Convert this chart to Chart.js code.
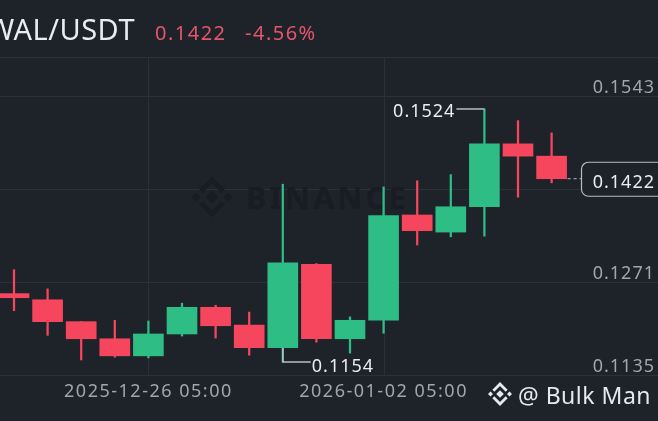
<!DOCTYPE html>
<html>
<head>
<meta charset="utf-8">
<script src="https://cdn.jsdelivr.net/npm/chart.js@4.4.1/dist/chart.umd.min.js"></script>
<style>
html, body { margin: 0; padding: 0; background: #1e2229; }
#wrap { width: 658px; height: 421px; }
</style>
</head>
<body>
<div id="wrap"><canvas id="chart" width="658" height="421"></canvas></div>
<script>
// daily candles, 2025-12-22 .. 2026-01-07
let days   = ['12-22','12-23','12-24','12-25','12-26','12-27','12-28','12-29','12-30','12-31','01-01','01-02','01-03','01-04','01-05','01-06','01-07'];
let opens  = [0.1254, 0.1245, 0.1213, 0.1188, 0.1163, 0.1195, 0.1234, 0.1208, 0.1175, 0.1297, 0.1188, 0.1215, 0.1369, 0.1344, 0.1381, 0.1473, 0.1455];
let highs  = [0.1289, 0.1261, 0.1213, 0.1215, 0.1214, 0.1240, 0.1237, 0.1227, 0.1414, 0.1298, 0.1220, 0.1410, 0.1419, 0.1428, 0.1524, 0.1507, 0.1489];
let lows   = [0.1229, 0.1193, 0.1157, 0.1161, 0.1160, 0.1192, 0.1189, 0.1164, 0.1154, 0.1183, 0.1167, 0.1196, 0.1325, 0.1337, 0.1338, 0.1395, 0.1416];
let closes = [0.1248, 0.1213, 0.1188, 0.1163, 0.1195, 0.1234, 0.1207, 0.1175, 0.1299, 0.1188, 0.1215, 0.1368, 0.1346, 0.1381, 0.1473, 0.1455, 0.1422];

let priceTicks = [0.1135, 0.1271, 0.1407, 0.1543];
let timeTickIdx = [4, 11];
let timeTickText = ['2025-12-26 05:00', '2026-01-02 05:00'];

let pair = 'WAL/USDT';
let lastPrice = '0.1422';
let dayChange = '-4.56%';
let maxLabel = '0.1524';
let minLabel = '0.1154';

let colors = {
    'bg':     '#1e2229',
    'grid':   '#2b3039',
    'up':     '#2ebd85',
    'down':   '#f6465d',
    'axis':   '#a0a6af',
    'text':   '#eaecef',
    'red':    '#e4566c',
    'marker': '#b7bdc6'
};

let font = '"Noto Sans", sans-serif';

let candleColor = opens.map((o, i) => closes[i] >= o ? colors.up : colors.down);

let wickData = days.map((d, i) => ({ x: i, y: [lows[i], highs[i]] }));
let bodyData = days.map((d, i) => ({ x: i, y: [Math.min(opens[i], closes[i]), Math.max(opens[i], closes[i])] }));

function diamond(ctx, cx, cy, r) {
    ctx.beginPath();
    ctx.moveTo(cx, cy - r);
    ctx.lineTo(cx + r, cy);
    ctx.lineTo(cx, cy + r);
    ctx.lineTo(cx - r, cy);
    ctx.closePath();
    ctx.fill();
}

function binanceLogo(ctx, cx, cy, s, color) {
    ctx.save();
    ctx.fillStyle = color;
    ctx.strokeStyle = color;
    ctx.lineWidth = 3 * s;
    diamond(ctx, cx, cy, 4 * s);
    diamond(ctx, cx - 10 * s, cy, 2.6 * s);
    diamond(ctx, cx + 10 * s, cy, 2.6 * s);
    ctx.beginPath();
    ctx.moveTo(cx - 7 * s, cy - 3.5 * s);
    ctx.lineTo(cx, cy - 10.5 * s);
    ctx.lineTo(cx + 7 * s, cy - 3.5 * s);
    ctx.moveTo(cx - 7 * s, cy + 3.5 * s);
    ctx.lineTo(cx, cy + 10.5 * s);
    ctx.lineTo(cx + 7 * s, cy + 3.5 * s);
    ctx.stroke();
    ctx.restore();
}

function roundRect(ctx, x, y, w, h, r) {
    ctx.beginPath();
    ctx.moveTo(x + r, y);
    ctx.lineTo(x + w - r, y);
    ctx.arcTo(x + w, y, x + w, y + r, r);
    ctx.lineTo(x + w, y + h - r);
    ctx.arcTo(x + w, y + h, x + w - r, y + h, r);
    ctx.lineTo(x + r, y + h);
    ctx.arcTo(x, y + h, x, y + h - r, r);
    ctx.lineTo(x, y + r);
    ctx.arcTo(x, y, x + r, y, r);
    ctx.closePath();
}

let backdrop = {
    id: 'backdrop',
    beforeDraw(chart) {
        let ctx = chart.ctx;
        let area = chart.chartArea;
        let xs = chart.scales.x;
        let ys = chart.scales.y;
        ctx.save();
        ctx.fillStyle = colors.bg;
        ctx.fillRect(0, 0, chart.width, chart.height);

        ctx.strokeStyle = colors.grid;
        ctx.lineWidth = 1;
        ctx.beginPath();
        ctx.moveTo(0, area.top + 0.5);
        ctx.lineTo(chart.width, area.top + 0.5);
        priceTicks.forEach((p) => {
            let y = Math.round(ys.getPixelForValue(p)) + 0.5;
            ctx.moveTo(0, y);
            ctx.lineTo(chart.width, y);
        });
        timeTickIdx.forEach((i) => {
            let x = Math.round(xs.getPixelForValue(i)) + 0.5;
            ctx.moveTo(x, area.top);
            ctx.lineTo(x, area.bottom);
        });
        ctx.stroke();

        // watermark
        binanceLogo(ctx, 212, 197, 1.6, '#191c22');
        ctx.fillStyle = '#191c22';
        ctx.font = 'bold 31px ' + font;
        ctx.letterSpacing = '3px';
        ctx.textBaseline = 'alphabetic';
        ctx.textAlign = 'left';
        ctx.fillText('BINANCE', 246, 209);
        ctx.restore();
    },
    afterDatasetsDraw(chart) {
        let ctx = chart.ctx;
        let xs = chart.scales.x;
        let ys = chart.scales.y;
        ctx.save();

        // header
        ctx.textBaseline = 'alphabetic';
        ctx.fillStyle = colors.text;
        ctx.font = '29px ' + font;
        ctx.letterSpacing = '0.5px';
        ctx.textAlign = 'right';
        ctx.fillText(pair, 135, 40);
        ctx.textAlign = 'left';
        ctx.fillStyle = colors.red;
        ctx.font = '20px ' + font;
        ctx.letterSpacing = '1.5px';
        ctx.fillText(lastPrice, 155, 40);
        ctx.fillText(dayChange, 245, 40);

        // price scale labels
        ctx.fillStyle = colors.axis;
        ctx.font = '18px ' + font;
        ctx.letterSpacing = '1px';
        ctx.textAlign = 'right';
        priceTicks.forEach((p) => {
            let y = ys.getPixelForValue(p);
            ctx.fillText(p.toFixed(4), 655, y - 3);
        });

        // time labels
        ctx.textAlign = 'center';
        ctx.letterSpacing = '1.5px';
        timeTickIdx.forEach((i, k) => {
            ctx.fillText(timeTickText[k], xs.getPixelForValue(i), 397);
        });
        ctx.letterSpacing = '1px';

        // max / min markers
        let hi = highs.indexOf(Math.max(...highs));
        let lo = lows.indexOf(Math.min(...lows));
        ctx.strokeStyle = colors.marker;
        ctx.lineWidth = 1.5;
        let hx = xs.getPixelForValue(hi);
        let hy = ys.getPixelForValue(highs[hi]);
        ctx.beginPath();
        ctx.moveTo(hx, hy);
        ctx.lineTo(hx - 28, hy);
        ctx.stroke();
        ctx.fillStyle = colors.text;
        ctx.textAlign = 'right';
        ctx.fillText(maxLabel, hx - 29, hy + 8);

        let lx = xs.getPixelForValue(lo);
        let ly = ys.getPixelForValue(lows[lo]);
        ctx.beginPath();
        ctx.moveTo(lx, ly - 14);
        ctx.lineTo(lx, ly);
        ctx.lineTo(lx + 28, ly);
        ctx.stroke();
        ctx.textAlign = 'left';
        ctx.fillText(minLabel, lx + 29, ly + 10);

        // last price line + box
        let last = closes.length - 1;
        let cy = ys.getPixelForValue(closes[last]);
        ctx.setLineDash([3, 3]);
        ctx.lineWidth = 1;
        ctx.beginPath();
        ctx.moveTo(xs.getPixelForValue(last) + 16, cy);
        ctx.lineTo(581, cy);
        ctx.stroke();
        ctx.setLineDash([]);
        ctx.fillStyle = colors.bg;
        roundRect(ctx, 581.5, cy - 16.5, 90, 34, 7);
        ctx.fill();
        ctx.strokeStyle = colors.marker;
        ctx.lineWidth = 1.2;
        ctx.stroke();
        ctx.fillStyle = colors.text;
        ctx.textAlign = 'right';
        ctx.fillText(lastPrice, 655, cy + 9);

        // post watermark
        binanceLogo(ctx, 500, 394, 0.95, '#e6e8eb');
        ctx.fillStyle = '#e6e8eb';
        ctx.font = '23px ' + font;
        ctx.letterSpacing = '0.5px';
        ctx.textAlign = 'left';
        ctx.fillText('@ Bulk Man', 518, 404);
        ctx.restore();
    }
};

let slot = 33.6;
let ctx = document.getElementById('chart').getContext('2d');
let chart = new Chart(ctx, {
    type: 'bar',
    data: {
        datasets: [
            {
                label: 'wick',
                data: wickData,
                backgroundColor: candleColor,
                barThickness: 1.6,
                grouped: false,
                order: 2
            },
            {
                label: 'body',
                data: bodyData,
                backgroundColor: candleColor,
                barThickness: 30,
                grouped: false,
                order: 1
            }
        ]
    },
    options: {
        responsive: false,
        animation: false,
        layout: { padding: { top: 57, bottom: 46, left: 0, right: 0 } },
        scales: {
            x: { type: 'linear', display: false, offset: false, min: -14 / slot, max: (658 - 14) / slot },
            y: { display: false, min: 0.1135, max: 0.16 }
        },
        plugins: {
            legend: { display: false },
            tooltip: { enabled: false }
        }
    },
    plugins: [backdrop]
});
</script>
</body>
</html>
